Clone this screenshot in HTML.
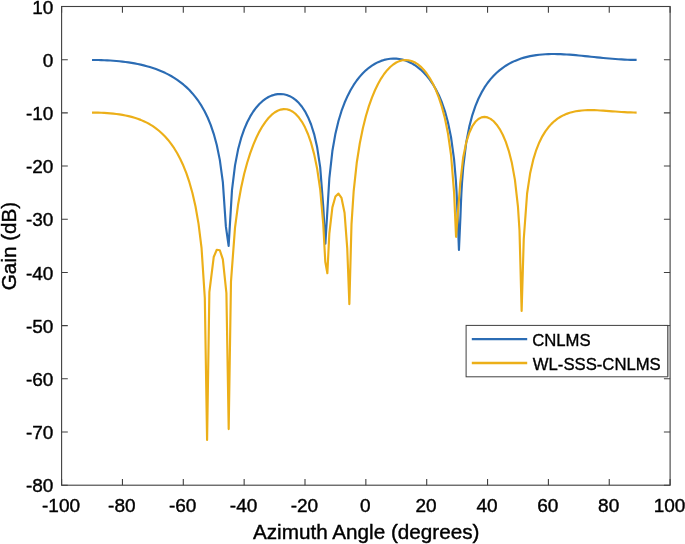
<!DOCTYPE html>
<html><head><meta charset="utf-8"><title>Beam pattern</title>
<style>html,body{margin:0;padding:0;background:#fff}body{width:685px;height:544px;overflow:hidden}</style></head>
<body>
<svg width="685" height="544" viewBox="0 0 685 544" style="display:block">
<rect width="685" height="544" fill="#fff"/>
<g stroke="#404040" stroke-width="1.1" fill="none">
<rect x="61.6" y="6.5" width="608.50" height="478.70"/>
<path d="M61.60,485.2 v-6.2 M61.60,6.5 v6.2"/>
<path d="M122.45,485.2 v-6.2 M122.45,6.5 v6.2"/>
<path d="M183.30,485.2 v-6.2 M183.30,6.5 v6.2"/>
<path d="M244.15,485.2 v-6.2 M244.15,6.5 v6.2"/>
<path d="M305.00,485.2 v-6.2 M305.00,6.5 v6.2"/>
<path d="M365.85,485.2 v-6.2 M365.85,6.5 v6.2"/>
<path d="M426.70,485.2 v-6.2 M426.70,6.5 v6.2"/>
<path d="M487.55,485.2 v-6.2 M487.55,6.5 v6.2"/>
<path d="M548.40,485.2 v-6.2 M548.40,6.5 v6.2"/>
<path d="M609.25,485.2 v-6.2 M609.25,6.5 v6.2"/>
<path d="M670.10,485.2 v-6.2 M670.10,6.5 v6.2"/>
<path d="M61.6,485.20 h6.2 M670.1,485.20 h-6.2"/>
<path d="M61.6,432.01 h6.2 M670.1,432.01 h-6.2"/>
<path d="M61.6,378.82 h6.2 M670.1,378.82 h-6.2"/>
<path d="M61.6,325.63 h6.2 M670.1,325.63 h-6.2"/>
<path d="M61.6,272.44 h6.2 M670.1,272.44 h-6.2"/>
<path d="M61.6,219.26 h6.2 M670.1,219.26 h-6.2"/>
<path d="M61.6,166.07 h6.2 M670.1,166.07 h-6.2"/>
<path d="M61.6,112.88 h6.2 M670.1,112.88 h-6.2"/>
<path d="M61.6,59.69 h6.2 M670.1,59.69 h-6.2"/>
<path d="M61.6,6.50 h6.2 M670.1,6.50 h-6.2"/>
</g>
<g font-family="Liberation Sans, sans-serif" font-size="19.0" fill="#000" stroke="#000" stroke-width="0.4">
<text x="61.00" y="512.0" text-anchor="middle">-100</text>
<text x="121.85" y="512.0" text-anchor="middle">-80</text>
<text x="182.70" y="512.0" text-anchor="middle">-60</text>
<text x="243.55" y="512.0" text-anchor="middle">-40</text>
<text x="304.40" y="512.0" text-anchor="middle">-20</text>
<text x="365.25" y="512.0" text-anchor="middle">0</text>
<text x="426.10" y="512.0" text-anchor="middle">20</text>
<text x="486.95" y="512.0" text-anchor="middle">40</text>
<text x="547.80" y="512.0" text-anchor="middle">60</text>
<text x="608.65" y="512.0" text-anchor="middle">80</text>
<text x="669.50" y="512.0" text-anchor="middle">100</text>
<text x="53.4" y="492.40" text-anchor="end">-80</text>
<text x="53.4" y="439.21" text-anchor="end">-70</text>
<text x="53.4" y="386.02" text-anchor="end">-60</text>
<text x="53.4" y="332.83" text-anchor="end">-50</text>
<text x="53.4" y="279.64" text-anchor="end">-40</text>
<text x="53.4" y="226.46" text-anchor="end">-30</text>
<text x="53.4" y="173.27" text-anchor="end">-20</text>
<text x="53.4" y="120.08" text-anchor="end">-10</text>
<text x="53.4" y="66.89" text-anchor="end">0</text>
<text x="53.4" y="13.70" text-anchor="end">10</text>
</g>
<g font-family="Liberation Sans, sans-serif" font-size="20.7" fill="#000" stroke="#000" stroke-width="0.4">
<text x="366.2" y="539.0" text-anchor="middle">Azimuth Angle (degrees)</text>
<text transform="translate(15.5,246) rotate(-90)" text-anchor="middle">Gain (dB)</text>
</g>
<path d="M92.03,59.95 L95.07,59.97 L98.11,60.02 L101.15,60.10 L104.19,60.21 L107.24,60.35 L110.28,60.53 L113.32,60.74 L116.37,60.99 L119.41,61.28 L122.45,61.61 L125.49,61.99 L128.53,62.42 L131.58,62.89 L134.62,63.42 L137.66,64.01 L140.71,64.66 L143.75,65.37 L146.79,66.17 L149.83,67.04 L152.88,67.99 L155.92,69.04 L158.96,70.19 L162.00,71.45 L165.04,72.84 L168.09,74.35 L171.13,76.01 L174.17,77.83 L177.22,79.83 L180.26,82.04 L183.30,84.46 L186.34,87.14 L189.38,90.10 L192.43,93.40 L195.47,97.09 L198.51,101.23 L201.56,105.93 L204.60,111.30 L207.64,117.53 L210.68,124.88 L213.72,133.78 L216.77,144.96 L219.81,159.87 L222.85,182.13 L225.89,226.63 L228.63,245.85 L231.98,190.15 L235.02,165.34 L238.06,149.59 L241.11,138.18 L244.15,129.34 L247.19,122.23 L250.23,116.38 L253.28,111.51 L256.32,107.44 L259.36,104.03 L262.41,101.19 L265.45,98.88 L268.49,97.04 L271.53,95.64 L274.57,94.66 L277.62,94.11 L280.66,93.97 L283.70,94.25 L286.75,94.98 L289.79,96.17 L292.83,97.88 L295.87,100.15 L298.92,103.08 L301.96,106.76 L305.00,111.37 L308.04,117.15 L311.09,124.51 L314.13,134.11 L317.17,147.32 L320.21,167.35 L323.25,206.57 L325.38,243.72 L329.34,178.33 L332.38,151.01 L335.43,133.68 L338.47,120.97 L341.51,110.98 L344.55,102.79 L347.60,95.91 L350.64,90.02 L353.68,84.94 L356.72,80.51 L359.77,76.65 L362.81,73.27 L365.85,70.33 L368.89,67.78 L371.94,65.58 L374.98,63.71 L378.02,62.16 L381.06,60.89 L384.11,59.91 L387.15,59.21 L390.19,58.77 L393.23,58.59 L396.28,58.68 L399.32,59.03 L402.36,59.64 L405.40,60.53 L408.45,61.71 L411.49,63.17 L414.53,64.96 L417.57,67.07 L420.62,69.55 L423.66,72.43 L426.70,75.77 L429.74,79.61 L432.79,84.06 L435.83,89.23 L438.87,95.29 L441.91,102.52 L444.96,111.32 L448.00,122.42 L451.04,137.27 L454.08,159.47 L455.91,180.88 L456.52,190.98 L456.97,200.33 L457.43,212.06 L458.95,249.84 L460.47,215.91 L460.93,203.38 L461.38,193.55 L461.99,183.05 L463.21,167.33 L466.25,142.45 L469.30,126.61 L472.34,115.07 L475.38,106.07 L478.42,98.76 L481.47,92.66 L484.51,87.47 L487.55,83.01 L490.59,79.13 L493.64,75.73 L496.68,72.74 L499.72,70.11 L502.76,67.78 L505.81,65.73 L508.85,63.91 L511.89,62.31 L514.93,60.89 L517.98,59.66 L521.02,58.58 L524.06,57.65 L527.10,56.85 L530.14,56.17 L533.19,55.60 L536.23,55.13 L539.27,54.76 L542.31,54.47 L545.36,54.26 L548.40,54.12 L551.44,54.05 L554.49,54.04 L557.53,54.08 L560.57,54.18 L563.61,54.31 L566.65,54.48 L569.70,54.69 L572.74,54.92 L575.78,55.18 L578.83,55.46 L581.87,55.76 L584.91,56.07 L587.95,56.38 L591.00,56.70 L594.04,57.02 L597.08,57.34 L600.12,57.65 L603.17,57.95 L606.21,58.24 L609.25,58.52 L612.29,58.77 L615.34,59.01 L618.38,59.22 L621.42,59.41 L624.46,59.57 L627.50,59.71 L630.55,59.82 L633.59,59.89 L636.63,59.94" fill="none" stroke="#2b6cb4" stroke-width="2.15" stroke-linejoin="round"/>
<path d="M92.03,112.61 L95.07,112.63 L98.11,112.69 L101.15,112.79 L104.19,112.92 L107.24,113.11 L110.28,113.34 L113.32,113.63 L116.37,113.97 L119.41,114.38 L122.45,114.87 L125.49,115.44 L128.53,116.09 L131.58,116.85 L134.62,117.73 L137.66,118.73 L140.71,119.87 L143.75,121.17 L146.79,122.64 L149.83,124.31 L152.88,126.19 L155.92,128.32 L158.96,130.72 L162.00,133.43 L165.04,136.48 L168.09,139.92 L171.13,143.81 L174.17,148.22 L177.22,153.23 L180.26,158.95 L183.30,165.54 L186.34,173.18 L189.38,182.17 L192.43,192.96 L195.47,206.29 L198.51,223.58 L201.56,248.20 L204.81,297.95 L207.09,439.99 L209.37,292.12 L213.72,257.02 L216.77,249.79 L219.81,250.28 L222.85,259.30 L226.41,293.16 L228.69,429.09 L230.98,281.67 L235.02,227.55 L238.06,204.77 L241.11,187.71 L244.15,174.05 L247.19,162.71 L250.23,153.09 L253.28,144.84 L256.32,137.73 L259.36,131.59 L262.41,126.31 L265.45,121.81 L268.49,118.03 L271.53,114.94 L274.57,112.51 L277.62,110.73 L280.66,109.59 L283.70,109.09 L286.75,109.27 L289.79,110.15 L292.83,111.77 L295.87,114.19 L298.92,117.51 L301.96,121.83 L305.00,127.33 L308.04,134.25 L311.09,142.97 L314.13,154.10 L317.17,168.79 L320.21,189.53 L323.25,224.15 L325.29,261.81 L327.36,273.24 L329.34,233.54 L332.38,207.39 L335.43,196.47 L338.47,193.61 L341.51,197.98 L344.55,212.73 L347.23,248.05 L349.36,304.09 L351.49,224.36 L353.68,191.04 L356.72,163.01 L359.77,143.51 L362.81,128.47 L365.85,116.29 L368.89,106.14 L371.94,97.55 L374.98,90.22 L378.02,83.95 L381.06,78.58 L384.11,74.02 L387.15,70.19 L390.19,67.02 L393.23,64.48 L396.28,62.52 L399.32,61.13 L402.36,60.29 L405.40,59.98 L408.45,60.20 L411.49,60.96 L414.53,62.27 L417.57,64.14 L420.62,66.61 L423.66,69.70 L426.70,73.49 L429.74,78.03 L432.79,83.45 L435.83,89.90 L438.87,97.61 L441.91,106.95 L444.96,118.56 L448.00,133.64 L451.04,155.01 L454.08,192.41 L456.06,236.81 L460.17,183.72 L463.21,157.20 L466.25,142.35 L469.30,132.73 L472.34,126.20 L475.38,121.77 L478.42,118.92 L481.47,117.35 L484.51,116.89 L487.55,117.41 L490.59,118.88 L493.64,121.28 L496.68,124.66 L499.72,129.09 L502.76,134.76 L505.81,141.92 L508.85,151.06 L511.89,163.08 L514.93,179.89 L517.98,206.98 L519.50,230.47 L521.63,311.01 L523.76,239.00 L527.10,193.50 L530.14,173.33 L533.19,159.91 L536.23,150.05 L539.27,142.42 L542.31,136.32 L545.36,131.36 L548.40,127.28 L551.44,123.89 L554.49,121.07 L557.53,118.72 L560.57,116.77 L563.61,115.17 L566.65,113.86 L569.70,112.80 L572.74,111.96 L575.78,111.31 L578.83,110.83 L581.87,110.49 L584.91,110.27 L587.95,110.16 L591.00,110.14 L594.04,110.18 L597.08,110.29 L600.12,110.45 L603.17,110.64 L606.21,110.85 L609.25,111.08 L612.29,111.32 L615.34,111.55 L618.38,111.77 L621.42,111.98 L624.46,112.16 L627.50,112.32 L630.55,112.44 L633.59,112.54 L636.63,112.59" fill="none" stroke="#ecaf18" stroke-width="2.15" stroke-linejoin="round"/>
<rect x="466.1" y="325.4" width="201.5" height="51.4" fill="#fff" stroke="#404040" stroke-width="1.0"/>
<rect x="667.7" y="325.9" width="2.0" height="50.9" fill="#adadad"/>
<path d="M471.8,339.2 H527.2" stroke="#2b6cb4" stroke-width="2.3"/>
<path d="M471.8,363.0 H527.2" stroke="#ecaf18" stroke-width="2.3"/>
<g font-family="Liberation Sans, sans-serif" font-size="16.7" fill="#000" stroke="#000" stroke-width="0.35">
<text x="532.2" y="346.0">CNLMS</text>
<text x="532.8" y="369.6">WL-SSS-CNLMS</text>
</g>
</svg>
</body></html>
